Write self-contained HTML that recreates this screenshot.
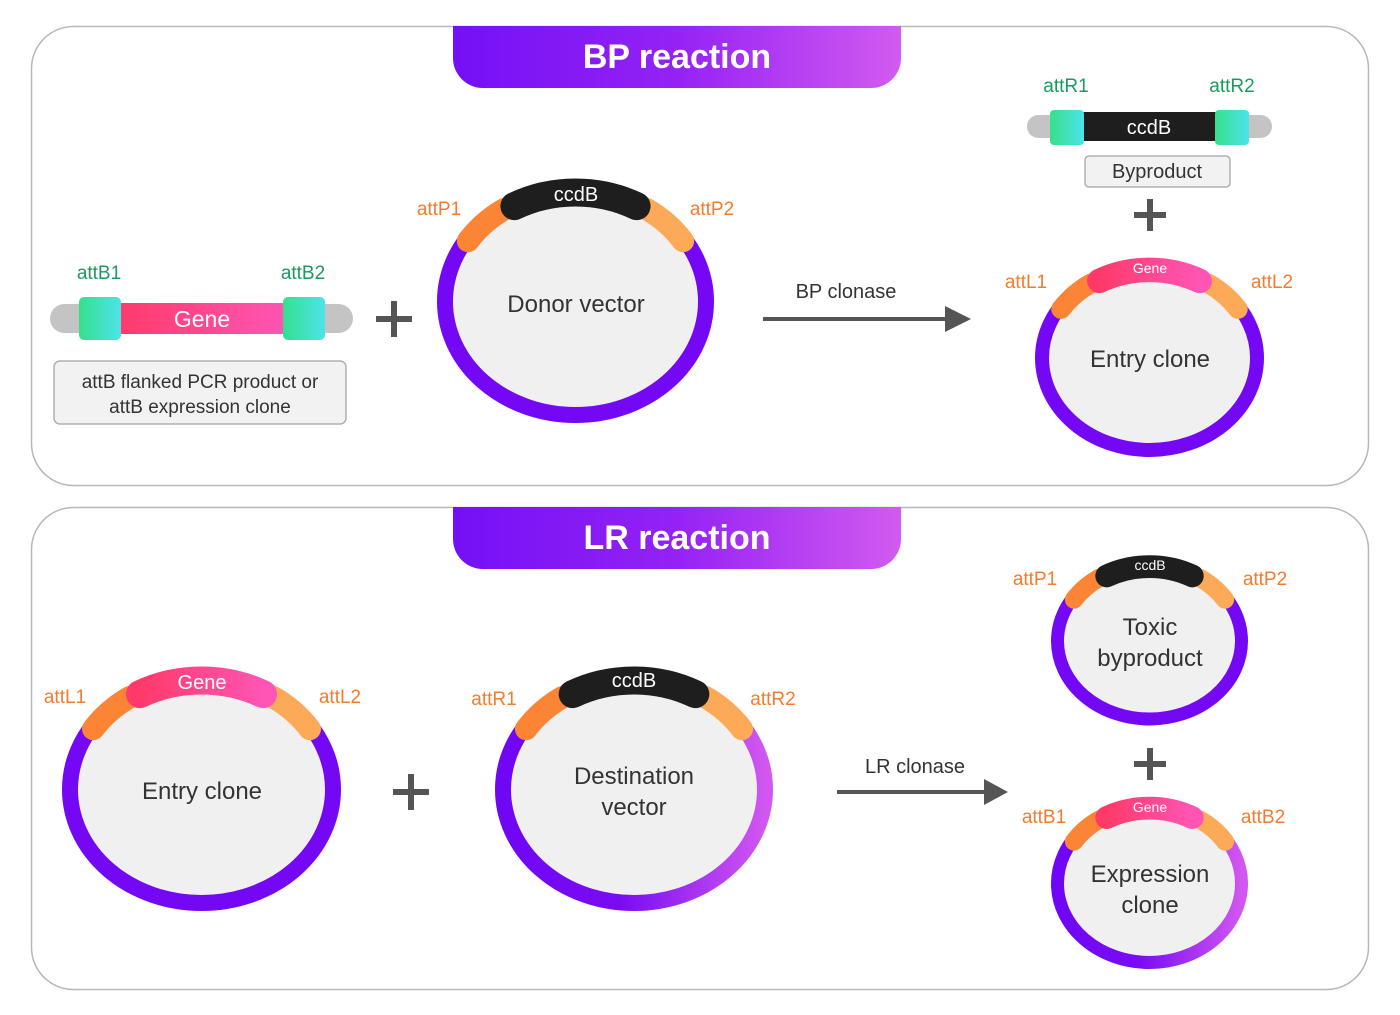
<!DOCTYPE html>
<html><head><meta charset="utf-8">
<style>
html,body{margin:0;padding:0;background:#fff;}
svg{display:block;font-family:"Liberation Sans",Arial,sans-serif;}
</style></head>
<body>
<svg id="s" width="1400" height="1015" viewBox="0 0 1400 1015" xmlns="http://www.w3.org/2000/svg">
<defs>
<linearGradient id="hdr" x1="0" x2="1" y1="0" y2="0"><stop offset="0" stop-color="#7410f6"/><stop offset="0.5" stop-color="#9422f4"/><stop offset="1" stop-color="#d35af0"/></linearGradient>
<linearGradient id="grn" x1="0" x2="1"><stop offset="0" stop-color="#36e08a"/><stop offset="1" stop-color="#4de3ec"/></linearGradient>
<linearGradient id="pink" x1="0" x2="1"><stop offset="0" stop-color="#ff3a6a"/><stop offset="1" stop-color="#ff55b5"/></linearGradient>
<linearGradient id="pv" x1="0" x2="1" y1="0" y2="0"><stop offset="0" stop-color="#6f06f4"/><stop offset="0.45" stop-color="#7a0cf4"/><stop offset="1" stop-color="#d157f0"/></linearGradient>
</defs>
<rect x="31.5" y="26.5" width="1337" height="459" rx="42" fill="#fff" stroke="#b8b8b8" stroke-width="1.5"/>
<rect x="31.5" y="507.5" width="1337" height="482" rx="42" fill="#fff" stroke="#b8b8b8" stroke-width="1.5"/>
<path d="M453 26 H901 V58 a30 30 0 0 1 -30 30 H483 a30 30 0 0 1 -30 -30 Z" fill="url(#hdr)"/>
<path d="M453 507 H901 V539 a30 30 0 0 1 -30 30 H483 a30 30 0 0 1 -30 -30 Z" fill="url(#hdr)"/>
<text x="677" y="68" text-anchor="middle" fill="#fff" font-size="34" font-weight="bold">BP reaction</text>
<text x="677" y="549" text-anchor="middle" fill="#fff" font-size="34" font-weight="bold">LR reaction</text>

<rect x="50" y="304" width="303" height="29" rx="14.5" fill="#c4c4c4"/>
<rect x="118" y="303" width="168" height="31" fill="url(#pink)"/>
<rect x="79" y="297" width="42" height="43" rx="5" fill="url(#grn)"/>
<rect x="283" y="297" width="42" height="43" rx="5" fill="url(#grn)"/>
<text x="202" y="327" text-anchor="middle" fill="#fff" font-size="23">Gene</text>
<text x="99" y="279" text-anchor="middle" fill="#1a9a5c" font-size="19">attB1</text>
<text x="303" y="279" text-anchor="middle" fill="#1a9a5c" font-size="19">attB2</text>
<rect x="54" y="361" width="292" height="63" rx="6" fill="#f2f2f2" stroke="#b0b0b0" stroke-width="1.5"/>
<text x="200" y="388" text-anchor="middle" fill="#333" font-size="19">attB flanked PCR product or</text>
<text x="200" y="413" text-anchor="middle" fill="#333" font-size="19">attB expression clone</text>

<rect x="1027" y="115" width="245" height="23" rx="11.5" fill="#c4c4c4"/>
<rect x="1080" y="112" width="138" height="29" fill="#1e1e1e"/>
<rect x="1050" y="110" width="34" height="35" rx="4" fill="url(#grn)"/>
<rect x="1215" y="110" width="34" height="35" rx="4" fill="url(#grn)"/>
<text x="1149" y="134" text-anchor="middle" fill="#fff" font-size="20">ccdB</text>
<text x="1066" y="92" text-anchor="middle" fill="#1a9a5c" font-size="19">attR1</text>
<text x="1232" y="92" text-anchor="middle" fill="#1a9a5c" font-size="19">attR2</text>
<rect x="1085" y="156" width="145" height="31" rx="4" fill="#f2f2f2" stroke="#b0b0b0" stroke-width="1.5"/>
<text x="1157" y="178" text-anchor="middle" fill="#333" font-size="20">Byproduct</text>

<g fill="#555">
<rect x="376" y="316" width="36" height="6"/><rect x="391" y="301" width="6" height="36"/>
<rect x="1134" y="212" width="32" height="6"/><rect x="1147" y="199" width="6" height="32"/>
<rect x="393" y="789" width="36" height="6"/><rect x="408" y="774" width="6" height="36"/>
<rect x="1134" y="761" width="32" height="6"/><rect x="1147" y="748" width="6" height="32"/>
</g>

<line x1="763" y1="319" x2="948" y2="319" stroke="#555" stroke-width="4"/>
<polygon points="945,306 971,319 945,332" fill="#555"/>
<text x="846" y="298" text-anchor="middle" fill="#333" font-size="20">BP clonase</text>
<line x1="837" y1="792" x2="988" y2="792" stroke="#555" stroke-width="4"/>
<polygon points="984,779 1008,792 984,805" fill="#555"/>
<text x="915" y="773" text-anchor="middle" fill="#333" font-size="20">LR clonase</text>

<g id="circles"></g>

<g fill="#333" text-anchor="middle">
<text x="576" y="312" font-size="24">Donor vector</text>
<text x="1150" y="367" font-size="24">Entry clone</text>
<text x="202" y="799" font-size="24">Entry clone</text>
<text x="634" y="784" font-size="24">Destination</text>
<text x="634" y="815" font-size="24">vector</text>
<text x="1150" y="635" font-size="24">Toxic</text>
<text x="1150" y="666" font-size="24">byproduct</text>
<text x="1150" y="882" font-size="24">Expression</text>
<text x="1150" y="913" font-size="24">clone</text>
</g>
<g fill="#fff" text-anchor="middle">
<text x="576" y="201" font-size="20">ccdB</text>
<text x="1150" y="273" font-size="14">Gene</text>
<text x="202" y="689" font-size="20">Gene</text>
<text x="634" y="687" font-size="20">ccdB</text>
<text x="1150" y="570" font-size="14">ccdB</text>
<text x="1150" y="812" font-size="14">Gene</text>
</g>
<g fill="#f47c2c" font-size="19" text-anchor="middle">
<text x="439" y="215">attP1</text><text x="712" y="215">attP2</text>
<text x="1026" y="288">attL1</text><text x="1272" y="288">attL2</text>
<text x="65" y="703">attL1</text><text x="340" y="703">attL2</text>
<text x="494" y="705">attR1</text><text x="773" y="705">attR2</text>
<text x="1035" y="585">attP1</text><text x="1265" y="585">attP2</text>
<text x="1044" y="823">attB1</text><text x="1263" y="823">attB2</text>
</g>
</svg>
<script>
(function(){
var g=document.getElementById('circles');var NS='http://www.w3.org/2000/svg';
function pt(c,rx,ry,a){var r=a*Math.PI/180;return [c.cx+rx*Math.cos(r),c.cy-ry*Math.sin(r)];}
function arc(c,off,a1,a2,col,w,cap){var rx=c.rx+off,ry=c.ry+off;var p1=pt(c,rx,ry,a1),p2=pt(c,rx,ry,a2);var e=document.createElementNS(NS,'path');
e.setAttribute('d','M'+p1[0]+' '+p1[1]+' A'+rx+' '+ry+' 0 0 1 '+p2[0]+' '+p2[1]);
e.setAttribute('fill','none');e.setAttribute('stroke',col);e.setAttribute('stroke-width',w);e.setAttribute('stroke-linecap',cap||'butt');g.appendChild(e);}
function circ(c,stroke,top){var e=document.createElementNS(NS,'ellipse');
e.setAttribute('cx',c.cx);e.setAttribute('cy',c.cy);e.setAttribute('rx',c.rx);e.setAttribute('ry',c.ry);
e.setAttribute('fill','#f0f0f0');e.setAttribute('stroke',stroke);e.setAttribute('stroke-width',c.w);g.appendChild(e);
var ow=c.w*1.4, tw=c.w*1.75;
arc(c,-c.w*0.15,147,124,'#fb8535',ow,'round');arc(c,-c.w*0.15,56,33,'#fdaa58',ow,'round');
arc(c,-c.w*0.28,119,61,top,tw,'round');}
circ({cx:575.5,cy:301.5,rx:130.5,ry:113.5,w:16},'#7408f5','#1e1e1e');
circ({cx:1149.5,cy:358,rx:107.5,ry:92,w:14},'#7408f5','url(#pink)');
circ({cx:201.5,cy:789.5,rx:131.5,ry:113.5,w:16},'#7408f5','url(#pink)');
circ({cx:634,cy:789.5,rx:131,ry:113.5,w:16},'url(#pv)','#1e1e1e');
circ({cx:1149.5,cy:641,rx:92,ry:78,w:13},'#7408f5','#1e1e1e');
circ({cx:1149.5,cy:883.5,rx:92,ry:79,w:13},'url(#pv)','url(#pink)');
})();
</script>
</body></html>
